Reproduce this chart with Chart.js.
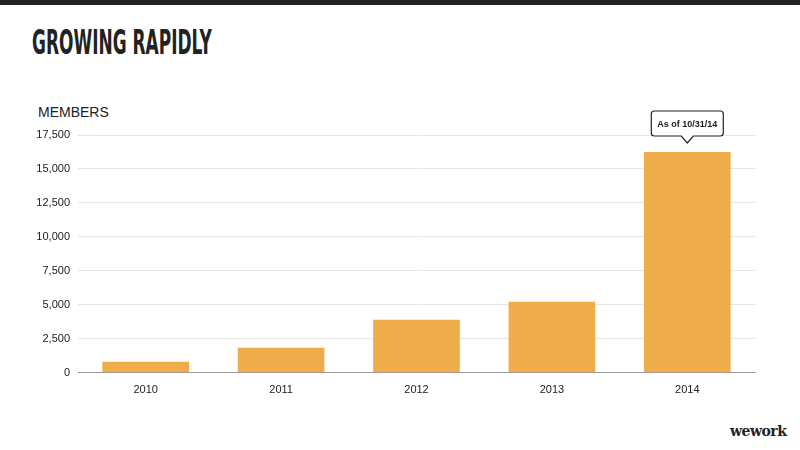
<!DOCTYPE html>
<html>
<head>
<meta charset="utf-8">
<script src="https://cdn.jsdelivr.net/npm/chart.js@4"></script>
<style>
  body { margin: 0; width: 800px; height: 450px; background: #fff; position: relative; overflow: hidden; font-family: "Liberation Sans", Arial, sans-serif; }
  #topbar { position: absolute; left: 0; top: 0; width: 800px; height: 5px; background: #232326; }
  #title { position: absolute; left: 32px; top: 22px; font-family: "Liberation Sans Narrow", "DejaVu Sans Condensed", sans-serif; font-weight: bold; font-size: 34px; color: #222; transform: scaleX(0.555); transform-origin: left; }
  #ytitle { position: absolute; left: 38px; top: 104px; font-size: 14px; color: #222; }
  #logo { position: absolute; left: 730px; top: 423px; font-family: "DejaVu Serif", serif; font-weight: bold; font-size: 14px; color: #222; letter-spacing: -0.5px; }
  #wrap { position: absolute; left: 0; top: 100px; width: 800px; height: 300px; }
</style>
</head>
<body>
<div id="topbar"></div>
<div id="title">GROWING RAPIDLY</div>
<div id="ytitle">MEMBERS</div>
<div id="logo">wework</div>
<div id="wrap"><canvas id="myChart"></canvas></div>
<script>
// dữ liệu
var years = ['2010', '2011', '2012', '2013', '2014'];
var members = [810, 1840, 3900, 5220, 16250];
var calloutText = 'As of 10/31/14';

// callout trên cột cuối
var calloutPlugin = {
    id: 'callout',
    afterDatasetsDraw: function(chart) {
        var c = chart.ctx;
        var bar = chart.getDatasetMeta(0).data[members.length - 1];
        var x = bar.x;
        var tipY = bar.y - 9;
        var w = 72, h = 25, r = 3;
        var top = tipY - 7 - h;
        c.save();
        c.fillStyle = '#fff';
        c.strokeStyle = '#222';
        c.lineWidth = 1.2;
        c.beginPath();
        c.moveTo(x - w / 2 + r, top);
        c.lineTo(x + w / 2 - r, top);
        c.quadraticCurveTo(x + w / 2, top, x + w / 2, top + r);
        c.lineTo(x + w / 2, top + h - r);
        c.quadraticCurveTo(x + w / 2, top + h, x + w / 2 - r, top + h);
        c.lineTo(x + 6, top + h);
        c.lineTo(x, tipY);
        c.lineTo(x - 6, top + h);
        c.lineTo(x - w / 2 + r, top + h);
        c.quadraticCurveTo(x - w / 2, top + h, x - w / 2, top + h - r);
        c.lineTo(x - w / 2, top + r);
        c.quadraticCurveTo(x - w / 2, top, x - w / 2 + r, top);
        c.closePath();
        c.fill();
        c.stroke();
        c.fillStyle = '#222';
        c.font = 'bold 9px "Liberation Sans", Arial, sans-serif';
        c.textAlign = 'center';
        c.textBaseline = 'middle';
        c.fillText(calloutText, x, top + h / 2 + 1);
        c.restore();
    }
};

var ctx = document.getElementById('myChart').getContext('2d');
var chart = new Chart(ctx, {
    type: 'bar',
    data: {
        labels: years,
        datasets: [{
            data: members,
            backgroundColor: '#eeac4a',
            barPercentage: 0.64,
            categoryPercentage: 1
        }]
    },
    options: {
        responsive: true,
        maintainAspectRatio: false,
        animation: false,
        layout: { padding: { left: 0, right: 45, top: 35, bottom: 0 } },
        plugins: { legend: { display: false }, tooltip: { enabled: false } },
        scales: {
            x: {
                grid: { display: false },
                border: { color: '#999' },
                ticks: { color: '#222', font: { size: 11 } }
            },
            y: {
                min: 0,
                max: 17500,
                afterFit: function(s) { s.width = 78; },
                ticks: {
                    stepSize: 2500,
                    padding: 8,
                    color: '#222',
                    font: { size: 11 },
                    callback: function(v) { return v.toLocaleString('en-US'); }
                },
                grid: { color: '#e6e6e6', drawTicks: false },
                border: { display: false }
            }
        }
    },
    plugins: [calloutPlugin]
});
</script>
</body>
</html>
